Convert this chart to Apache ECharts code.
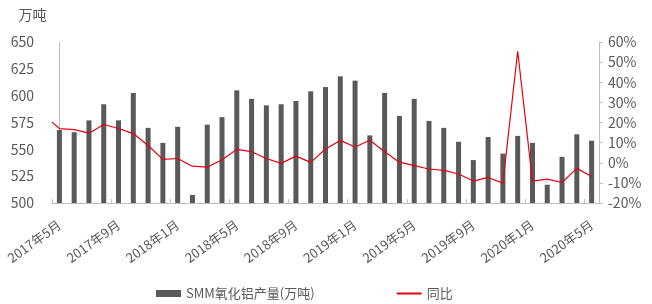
<!DOCTYPE html>
<html lang="zh">
<head>
<meta charset="UTF-8">
<title>SMM氧化铝产量</title>
<script src="https://cdn.jsdelivr.net/npm/echarts@6/dist/echarts.min.js"></script>
<style>
    body { margin: 0; padding: 0; overflow: hidden; background: #fff; }
    #chart { width: 652px; height: 304px; }
</style>
</head>
<body>
<div id="chart"></div>
<script>
// 月份 2017年5月 - 2020年5月
let months = [];
for (let y = 2017, m = 5; months.length < 37; m++) {
    if (m > 12) { m = 1; y++; }
    months.push(`${y}年${m}月`);
}

// SMM氧化铝产量(万吨)
let output = [568, 566, 577, 592, 577, 602.5, 570, 556, 571, 507.5,
    573, 580, 605, 597, 591, 592, 595, 604, 608, 618,
    614, 563, 602.5, 581, 597, 576.5, 570, 557, 540, 561.5,
    546, 562.5, 556, 517, 543, 564, 558];

// 同比(%)
let yoy = [17.0, 16.5, 14.7, 19.0, 17.0, 14.5, 8.6, 1.7, 2.1, -1.7,
    -2.2, 1.5, 6.6, 5.5, 2.1, -0.3, 3.3, 0.2, 6.8, 11.1,
    7.8, 11.2, 5.5, 0.3, -1.4, -3.1, -3.8, -5.6, -9.1, -7.3,
    -10.1, 55.4, -9.1, -8.1, -9.8, -2.8, -6.8];
// 左边界处的同比值
let yoyStart = 20.2;

let txt = '#595959';
let axisGray = '#bfbfbf';
let font = "'Microsoft YaHei', 'Noto Sans CJK SC', sans-serif";

let ec = echarts.init(document.getElementById('chart'));
ec.setOption({
    animation: false,
    textStyle: { fontFamily: font, color: txt },
    grid: { left: 52, right: 53, top: 42, bottom: 101 },
    legend: {
        left: 151,
        top: 282,
        itemWidth: 25,
        itemHeight: 7,
        itemGap: 81,
        textStyle: { fontSize: 13, color: txt, fontFamily: font },
        data: [
            { name: 'SMM氧化铝产量(万吨)', icon: 'rect' },
            { name: '同比', itemStyle: { opacity: 0 } }
        ]
    },
    xAxis: [
        {
            type: 'category',
            data: months,
            boundaryGap: true,
            axisLine: { onZero: false, lineStyle: { color: axisGray } },
            axisTick: { show: true, inside: true, length: 4, interval: 3, lineStyle: { color: axisGray } },
            axisLabel: { interval: 3, rotate: 36, margin: 20, fontSize: 13, color: txt }
        },
        {
            type: 'value',
            min: -0.5,
            max: 36.5,
            show: false
        }
    ],
    yAxis: [
        {
            type: 'value',
            name: '万吨',
            nameLocation: 'end',
            nameGap: 20,
            nameTextStyle: { fontSize: 14, color: txt, align: 'right', padding: [0, 13, 0, 0] },
            min: 500,
            max: 650,
            interval: 25,
            splitLine: { show: false },
            axisLine: { show: true, lineStyle: { color: axisGray } },
            axisTick: { show: false },
            axisLabel: { fontSize: 14, color: txt, margin: 18 }
        },
        {
            type: 'value',
            min: -20,
            max: 60,
            interval: 10,
            splitLine: { show: false },
            axisLine: { show: true, lineStyle: { color: axisGray } },
            axisTick: { show: true, length: 4, lineStyle: { color: axisGray } },
            axisLabel: { fontSize: 14, color: txt, margin: 9, formatter: '{value}%' }
        }
    ],
    series: [
        {
            name: 'SMM氧化铝产量(万吨)',
            type: 'bar',
            data: output,
            barWidth: 5,
            itemStyle: { color: '#595959' }
        },
        {
            name: '同比',
            type: 'line',
            xAxisIndex: 1,
            yAxisIndex: 1,
            symbol: 'none',
            data: [[-0.5, yoyStart]].concat(yoy.map((v, i) => [i, v])),
            lineStyle: { color: '#e60012', width: 1.2 },
            itemStyle: { color: '#e60012' }
        }
    ]
});
</script>
</body>
</html>
